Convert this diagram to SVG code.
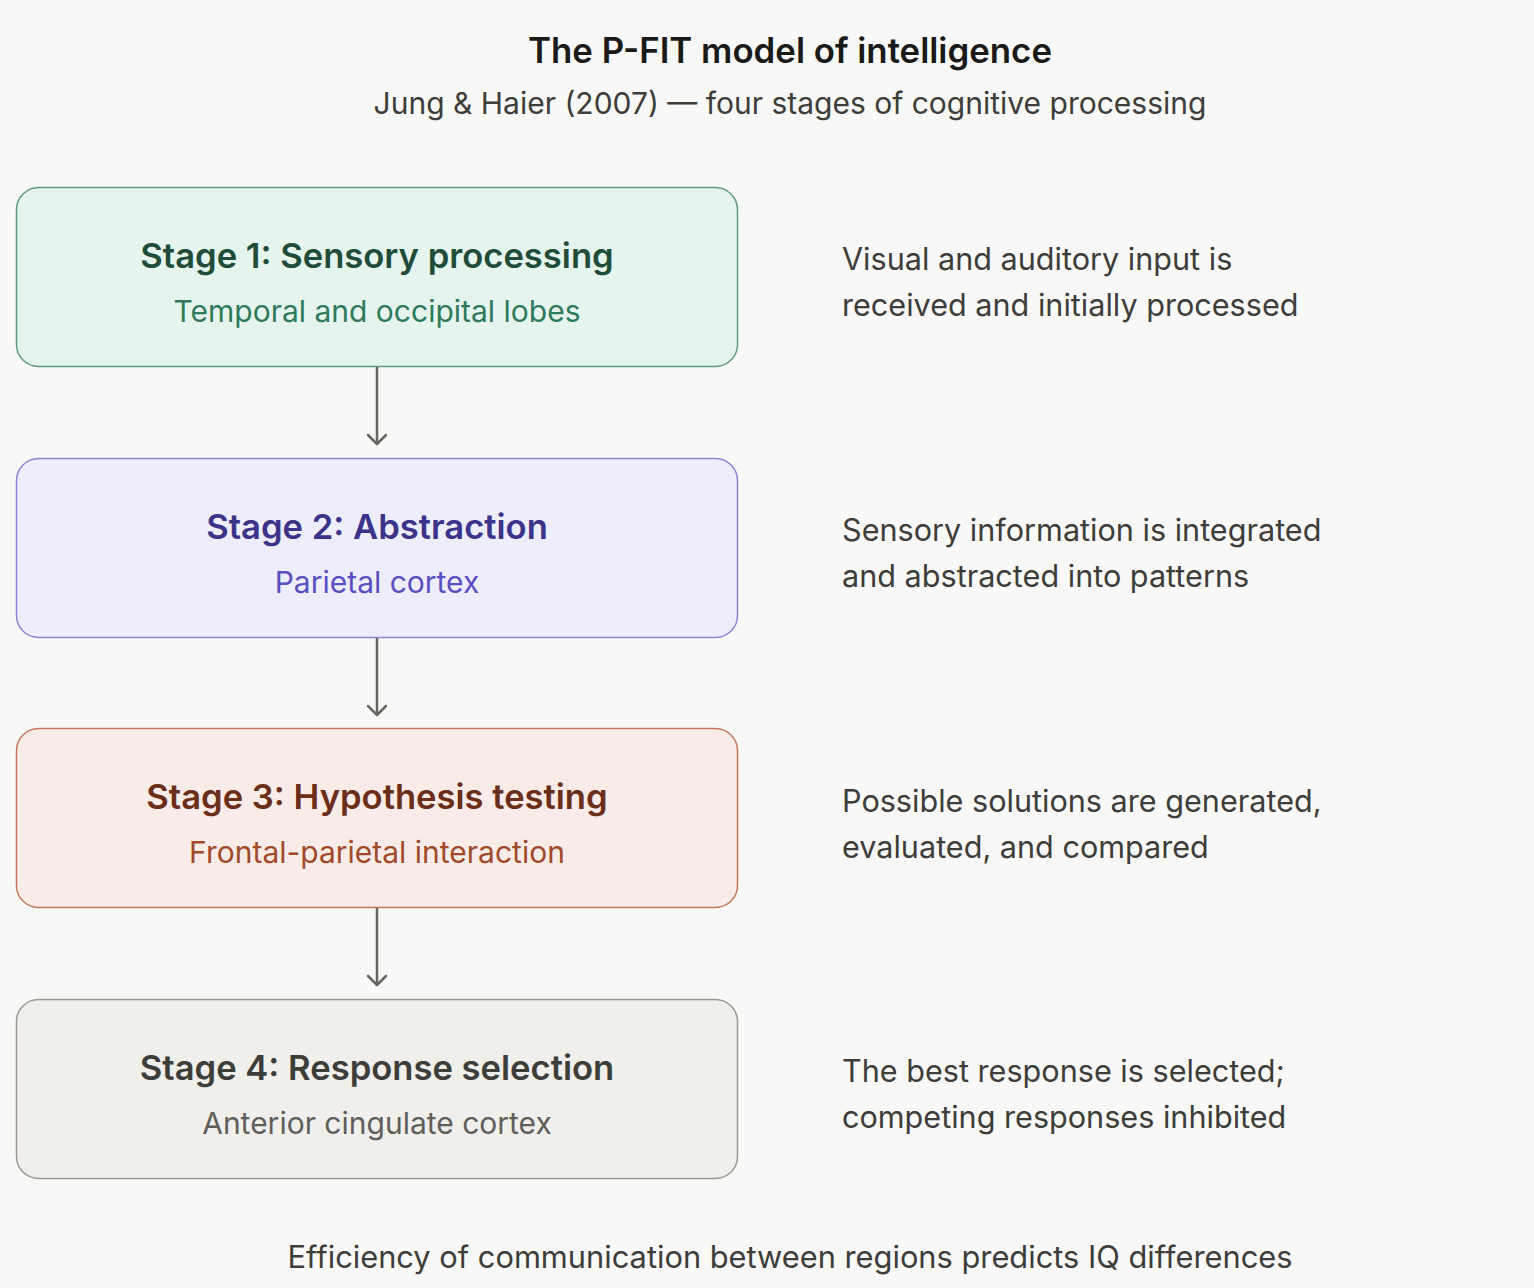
<svg xmlns="http://www.w3.org/2000/svg" width="1534" height="1288" viewBox="0 0 1534 1288">
<style>
text{font-family:Inter,"Liberation Sans",sans-serif}
.title{font-size:34.8px;font-weight:600;fill:#1a1a18;text-anchor:middle}
.subtitle{font-size:30px;fill:#3d3d3a;text-anchor:middle}
.st{font-size:34.6px;font-weight:600;text-anchor:middle}
.ss{font-size:30px;text-anchor:middle}
.desc{font-size:30.6px;fill:#3d3d3a}
.foot{font-size:30.8px;fill:#3d3d3a;text-anchor:middle}
.box{stroke-width:1.5}
.conn{stroke:#666663;stroke-width:2.5;fill:none}
</style>
<defs>
<marker id="ah" viewBox="0 0 20 20" refX="18" refY="10" markerWidth="20" markerHeight="20" markerUnits="userSpaceOnUse" orient="auto">
<path d="M9 1 L18 10 L9 19" fill="none" stroke="#666663" stroke-width="2.5" stroke-linecap="round" stroke-linejoin="round"/>
</marker>
</defs>
<rect width="1534" height="1288" fill="#f8f8f6"/>
<text class="title" x="790" y="63">The P-FIT model of intelligence</text>
<text class="subtitle" x="790" y="114">Jung &amp; Haier (2007) — four stages of cognitive processing</text>

<g id="stage1">
<rect class="box" x="16.5" y="187.5" width="721" height="179" rx="22" fill="#e5f5ee" stroke="#5d9a80"/>
<text class="st" x="377" y="268" fill="#1f4d3a">Stage 1: Sensory processing</text>
<text class="ss" x="377" y="322" fill="#2e7a5a">Temporal and occipital lobes</text>
</g>
<g id="stage2">
<rect class="box" x="16.5" y="458.5" width="721" height="179" rx="22" fill="#eeedfc" stroke="#8b84d8"/>
<text class="st" x="377" y="539" fill="#3b3488">Stage 2: Abstraction</text>
<text class="ss" x="377" y="593" fill="#5a4fc0">Parietal cortex</text>
</g>
<g id="stage3">
<rect class="box" x="16.5" y="728.5" width="721" height="179" rx="22" fill="#f9ece8" stroke="#c2775a"/>
<text class="st" x="377" y="809" fill="#6b2e18">Stage 3: Hypothesis testing</text>
<text class="ss" x="377" y="863" fill="#a04a2a">Frontal-parietal interaction</text>
</g>
<g id="stage4">
<rect class="box" x="16.5" y="999.5" width="721" height="179" rx="22" fill="#f0efeb" stroke="#9a9890"/>
<text class="st" x="377" y="1080" fill="#3d3d3a">Stage 4: Response selection</text>
<text class="ss" x="377" y="1134" fill="#5f5e5a">Anterior cingulate cortex</text>
</g>

<g id="connectors">
<line class="conn" x1="377" y1="367" x2="377" y2="444" marker-end="url(#ah)"/>
<line class="conn" x1="377" y1="638" x2="377" y2="715" marker-end="url(#ah)"/>
<line class="conn" x1="377" y1="908" x2="377" y2="985" marker-end="url(#ah)"/>
</g>

<g id="descriptions">
<text class="desc" x="842" y="270">Visual and auditory input is</text>
<text class="desc" x="842" y="316">received and initially processed</text>
<text class="desc" x="842" y="541">Sensory information is integrated</text>
<text class="desc" x="842" y="587">and abstracted into patterns</text>
<text class="desc" x="842" y="812">Possible solutions are generated,</text>
<text class="desc" x="842" y="858">evaluated, and compared</text>
<text class="desc" x="842" y="1082">The best response is selected;</text>
<text class="desc" x="842" y="1128">competing responses inhibited</text>
</g>
<text class="foot" x="790" y="1268">Efficiency of communication between regions predicts IQ differences</text>
</svg>
